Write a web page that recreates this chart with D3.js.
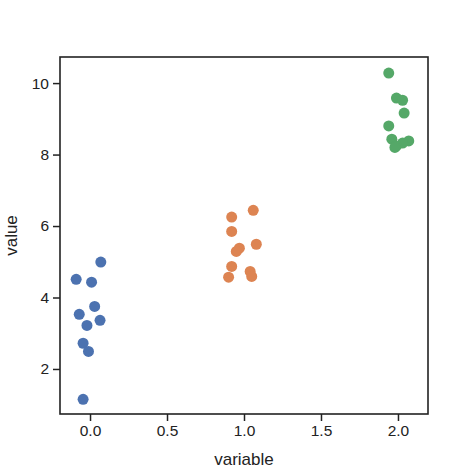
<!DOCTYPE html><html><head><script src="https://cdn.jsdelivr.net/npm/d3@7"></script>
<style>body{margin:0;background:#fff}</style></head><body><svg id="c" width="474" height="474"></svg><script>
const colors=["#4c72b0","#dd8452","#55a868"];
const xs0=[0.07,-0.09,0.01,0.03,-0.07,0.065,-0.02,-0.045,-0.01,-0.045];
const ys0=[4.99,4.51,4.43,3.75,3.53,3.36,3.22,2.72,2.49,1.15];
const xs1=[1.06,0.92,0.92,1.08,0.97,0.95,0.92,1.04,1.05,0.9];
const ys1=[6.44,6.25,5.85,5.49,5.38,5.29,4.87,4.73,4.59,4.57];
const xs2=[1.94,1.99,2.03,2.04,1.94,1.96,2.07,2.03,1.99,1.98];
const ys2=[10.28,9.58,9.52,9.16,8.8,8.43,8.38,8.32,8.24,8.2];
const xTicks=[0,0.5,1,1.5,2], yTicks=[2,4,6,8,10];
const svg=d3.select("#c");
const L=60,R=428,T=57,B=414;
const x=d3.scaleLinear().domain([-0.195,2.195]).range([L,R]);
const y=d3.scaleLinear().domain([0.74,10.73]).range([B,T]);
const series=[[xs0,ys0],[xs1,ys1],[xs2,ys2]];
series.forEach((s,i)=>svg.append("g").selectAll("circle").data(s[0]).join("circle")
 .attr("cx",d=>x(d)).attr("cy",(d,j)=>y(s[1][j])).attr("r",5.5).attr("fill",colors[i]));
const f="Arial, 'Liberation Sans', sans-serif";
const gx=svg.append("g").attr("transform",`translate(0,${B})`).call(d3.axisBottom(x).tickValues(xTicks).tickFormat(d3.format(".1f")).tickSize(7).tickPadding(4));
const gy=svg.append("g").attr("transform",`translate(${L},0)`).call(d3.axisLeft(y).tickValues(yTicks).tickSize(7).tickPadding(4));
[gx,gy].forEach(g=>{g.select(".domain").remove();g.selectAll("line").attr("stroke","#222").attr("stroke-width",1.5);g.selectAll("text").attr("font-size",15.5).attr("font-family",f).attr("fill","#222");});
svg.append("rect").attr("x",L).attr("y",T).attr("width",R-L).attr("height",B-T).attr("fill","none").attr("stroke","#222").attr("stroke-width",1.6);
svg.append("text").attr("x",(L+R)/2).attr("y",465).attr("text-anchor","middle").attr("font-size",17).attr("font-family",f).attr("fill","#222").text("variable");
svg.append("text").attr("transform",`translate(17,${(T+B)/2}) rotate(-90)`).attr("text-anchor","middle").attr("font-size",17).attr("font-family",f).attr("fill","#222").text("value");
</script></body></html>
